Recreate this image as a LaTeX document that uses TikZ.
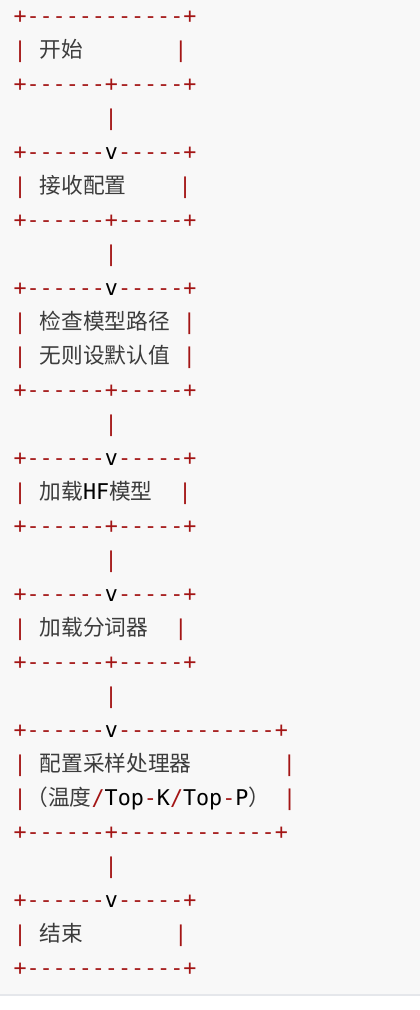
\documentclass[tikz,border=0pt]{standalone}
\usepackage{fontspec}
\setmonofont{DejaVu Sans Mono}
\newfontfamily\zhfont{Noto Sans CJK SC}
\usepackage{xcolor}
\definecolor{codebg}{RGB}{248,248,248}
\definecolor{coderule}{RGB}{229,231,235}
\definecolor{codered}{RGB}{163,21,21}
\definecolor{codegray}{RGB}{60,60,60}
\usepackage{tikz}
\newcommand{\rd}[1]{\textcolor{codered}{#1}}
\newcommand{\zh}[1]{{\zhfont\color{codegray}#1}}
\tikzset{asciirow/.style={anchor=base west, inner sep=0pt, outer sep=0pt, text=black,
    font=\ttfamily\fontsize{21.7}{34}\selectfont}}

\begin{document}
\begin{tikzpicture}[x=1pt, y=-1pt]
    % Code block background
    \useasboundingbox (0,0) rectangle (420,1010);
    \fill[codebg] (0,0) rectangle (420,994);
    \fill[coderule] (0,994) rectangle (420,996);
    \fill[white] (0,996) rectangle (420,1010);

    % Box: start
    \node[asciirow] (startTop) at (13.5,23.2) {\rd{+------------+}};
    \node[asciirow] (startText) at (13.5,57.2) {\rd{|}~\zh{开始}~~~~~~~\rd{|}};
    \node[asciirow] (startBot) at (13.5,91.2) {\rd{+------+-----+}};
    \node[asciirow] (linkA) at (104.7,125.2) {\rd{|}};

    % Box: receive config
    \node[asciirow] (cfgTop) at (13.5,159.2) {\rd{+------}v\rd{-----+}};
    \node[asciirow] (cfgText) at (13.5,193.2) {\rd{|}~\zh{接收配置}~~~~\rd{|}};
    \node[asciirow] (cfgBot) at (13.5,227.2) {\rd{+------+-----+}};
    \node[asciirow] (linkB) at (104.7,261.2) {\rd{|}};

    % Box: model path check
    \node[asciirow] (pathTop) at (13.5,295.2) {\rd{+------}v\rd{-----+}};
    \node[asciirow] (pathText) at (13.5,329.2) {\rd{|}~\zh{检查模型路径}~\rd{|}};
    \node[asciirow] (pathText2) at (13.5,363.2) {\rd{|}~\zh{无则设默认值}~\rd{|}};
    \node[asciirow] (pathBot) at (13.5,397.2) {\rd{+------+-----+}};
    \node[asciirow] (linkC) at (104.7,431.2) {\rd{|}};

    % Box: load HF model
    \node[asciirow] (modelTop) at (13.5,465.2) {\rd{+------}v\rd{-----+}};
    \node[asciirow] (modelText) at (13.5,499.2) {\rd{|}~\zh{加载}HF\zh{模型}~~\rd{|}};
    \node[asciirow] (modelBot) at (13.5,533.2) {\rd{+------+-----+}};
    \node[asciirow] (linkD) at (104.7,567.2) {\rd{|}};

    % Box: load tokenizer
    \node[asciirow] (tokTop) at (13.5,601.2) {\rd{+------}v\rd{-----+}};
    \node[asciirow] (tokText) at (13.5,635.2) {\rd{|}~\zh{加载分词器}~~\rd{|}};
    \node[asciirow] (tokBot) at (13.5,669.2) {\rd{+------+-----+}};
    \node[asciirow] (linkE) at (104.7,703.2) {\rd{|}};

    % Box: sampling processors (wide)
    \node[asciirow] (sampTop) at (13.5,737.2) {\rd{+------}v\rd{------------+}};
    \node[asciirow] (sampText) at (13.5,771.2) {\rd{|}~\zh{配置采样处理器}~~~~~~~\rd{|}};
    \node[asciirow] (sampText2) at (13.5,805.2) {\rd{|}\zh{（温度}\rd{/}Top\rd{-}K\rd{/}Top\rd{-}P\zh{）}~\rd{|}};
    \node[asciirow] (sampBot) at (13.5,839.2) {\rd{+------+------------+}};
    \node[asciirow] (linkF) at (104.7,873.2) {\rd{|}};

    % Box: end
    \node[asciirow] (endTop) at (13.5,907.2) {\rd{+------}v\rd{-----+}};
    \node[asciirow] (endText) at (13.5,941.2) {\rd{|}~\zh{结束}~~~~~~~\rd{|}};
    \node[asciirow] (endBot) at (13.5,975.2) {\rd{+------------+}};
\end{tikzpicture}
\end{document}
